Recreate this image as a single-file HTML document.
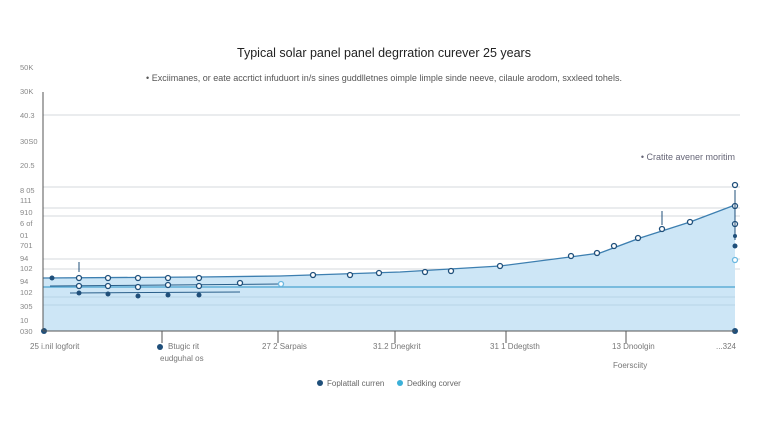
<!DOCTYPE html><html><head><meta charset="utf-8"><style>body{margin:0;background:#fff}svg{display:block}text{font-family:"Liberation Sans",sans-serif}</style></head><body>
<svg width="768" height="439" viewBox="0 0 768 439">
<rect width="768" height="439" fill="#fff"/>
<text x="384" y="57" font-size="12.5" text-anchor="middle" fill="#222">Typical solar panel panel degrration curever 25 years</text>
<text x="384" y="81" font-size="9" text-anchor="middle" fill="#555">• Exciimanes, or eate accrtict infuduort in/s sines guddlletnes oimple limple sinde neeve,  cilaule arodom, sxxleed tohels.</text>
<text x="735" y="160" font-size="9" text-anchor="end" fill="#667">• Cratite avener moritim</text>
<g stroke="#d4d8dc" stroke-width="1">
<line x1="43" x2="740" y1="115" y2="115"/><line x1="43" x2="740" y1="187" y2="187"/><line x1="43" x2="740" y1="208" y2="208"/><line x1="43" x2="740" y1="216" y2="216"/><line x1="43" x2="740" y1="259" y2="259"/><line x1="43" x2="740" y1="269" y2="269"/>
</g>
<path d="M43 278 L200 277 L280 276 L400 272 L500 266 L570 257 L600 253 L640 238 L690 222 L735 205 L735 331 L43 331Z" fill="#cde6f6"/>
<path d="M43 278 L200 277 L280 276 L400 272 L500 266 L570 257 L600 253 L640 238 L690 222 L735 205" fill="none" stroke="#3d7fb0" stroke-width="1.3"/>
<g stroke="#b8d4e6"><line x1="43" x2="735" y1="297" y2="297"/><line x1="43" x2="735" y1="305" y2="305"/></g>
<line x1="43" x2="735" y1="287" y2="287" stroke="#4aa3d0" stroke-width="1.2"/>
<path d="M50 286 L280 284" stroke="#2a5f8a" fill="none"/><path d="M70 293 L240 292" stroke="#2a5f8a" fill="none"/>
<g fill="#fff" stroke="#1f4f7a" stroke-width="1.3">
<circle cx="79" cy="278" r="2.5"/><circle cx="79" cy="286" r="2.5"/><circle cx="108" cy="278" r="2.5"/><circle cx="108" cy="286" r="2.5"/><circle cx="138" cy="278" r="2.5"/><circle cx="138" cy="287" r="2.5"/><circle cx="168" cy="278" r="2.5"/><circle cx="168" cy="285" r="2.5"/><circle cx="199" cy="278" r="2.5"/><circle cx="199" cy="286" r="2.5"/><circle cx="240" cy="283" r="2.5"/><circle cx="281" cy="284" r="2.5" stroke="#6bb8e0"/><circle cx="313" cy="275" r="2.5"/><circle cx="350" cy="275" r="2.5"/><circle cx="379" cy="273" r="2.5"/><circle cx="425" cy="272" r="2.5"/><circle cx="451" cy="271" r="2.5"/><circle cx="500" cy="266" r="2.5"/><circle cx="571" cy="256" r="2.5"/><circle cx="597" cy="253" r="2.5"/><circle cx="614" cy="246" r="2.5"/><circle cx="638" cy="238" r="2.5"/><circle cx="662" cy="229" r="2.5"/><circle cx="690" cy="222" r="2.5"/><circle cx="735" cy="185" r="2.5"/><circle cx="735" cy="206" r="2.5"/><circle cx="735" cy="224" r="2.5"/><circle cx="735" cy="260" r="2.5" stroke="#6bb8e0"/>
</g>
<g fill="#1f4f7a"><circle cx="52" cy="278" r="2.5"/><circle cx="79" cy="293" r="2.5"/><circle cx="108" cy="294" r="2.5"/><circle cx="138" cy="296" r="2.5"/><circle cx="168" cy="295" r="2.5"/><circle cx="199" cy="295" r="2.5"/><circle cx="735" cy="246" r="2.5"/><circle cx="735" cy="236" r="2"/><circle cx="735" cy="331" r="3"/><circle cx="44" cy="331" r="3"/></g>
<g stroke="#1f4f7a"><line x1="79" y1="262" x2="79" y2="272"/><line x1="662" y1="211" x2="662" y2="225"/><line x1="735" y1="190" x2="735" y2="240"/></g>
<line x1="43" y1="92" x2="43" y2="331" stroke="#555"/>
<line x1="43" y1="331" x2="735" y2="331" stroke="#555"/>
<g stroke="#555"><line x1="162" x2="162" y1="331" y2="343"/><line x1="278" x2="278" y1="331" y2="343"/><line x1="395" x2="395" y1="331" y2="343"/><line x1="506" x2="506" y1="331" y2="343"/><line x1="626" x2="626" y1="331" y2="343"/></g>
<g font-size="7.5" fill="#888">
<text x="20" y="70">50K</text><text x="20" y="94">30K</text><text x="20" y="118">40.3</text><text x="20" y="144">30S0</text><text x="20" y="168">20.5</text><text x="20" y="193">8 05</text><text x="20" y="203">111</text><text x="20" y="215">910</text><text x="20" y="226">6 of</text><text x="20" y="238">01</text><text x="20" y="248">701</text><text x="20" y="261">94</text><text x="20" y="271">102</text><text x="20" y="284">94</text><text x="20" y="295">102</text><text x="20" y="309">305</text><text x="20" y="323">10</text><text x="20" y="334">030</text>
</g>
<g font-size="8" fill="#777">
<text x="30" y="349">25 i.nil logforit</text><text x="168" y="349">Btugic rit</text><text x="160" y="361">eudguhal os</text><text x="262" y="349">27 2 Sarpais</text><text x="373" y="349">31.2 Dnegkrit</text><text x="490" y="349">31 1 Ddegtsth</text><text x="612" y="349">13 Dnoolgin</text><text x="613" y="368">Foersciity</text><text x="736" y="349" text-anchor="end">...324</text>
</g>
<circle cx="160" cy="347" r="3" fill="#1f4f7a"/>
<circle cx="320" cy="383" r="3" fill="#1f4f7a"/><text x="327" y="386" font-size="8" fill="#666">Foplattall curren</text>
<circle cx="400" cy="383" r="3" fill="#3bb0d8"/><text x="407" y="386" font-size="8" fill="#666">Dedking corver</text>
</svg></body></html>
